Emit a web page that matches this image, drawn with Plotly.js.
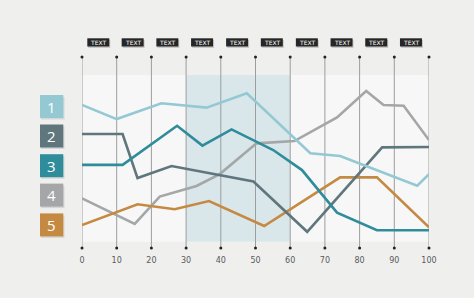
<!DOCTYPE html>
<html>
<head>
<meta charset="utf-8">
<script src="https://cdn.plot.ly/plotly-3.0.1.min.js"></script>
<style>html,body{margin:0;padding:0;background:#efefee;}#chart{width:474px;height:298px;}</style>
</head>
<body>
<div id="chart"></div>
<script>
// ---- data ----
const gridX = [0, 10, 20, 30, 40, 50, 60, 70, 80, 90, 100];
const tickLabels = ['0','10','20','30','40','50','60','70','80','90','100'];
const headerX = [4.7, 14.6, 24.6, 34.6, 44.7, 54.7, 64.8, 74.8, 84.8, 94.8];
const headerLabels = ['TEXT','TEXT','TEXT','TEXT','TEXT','TEXT','TEXT','TEXT','TEXT','TEXT'];
const legendLabels = ['1','2','3','4','5'];
const highlightRange = [30, 60];

const s1x = [0, 10, 22.9, 35.9, 47.5, 65.8, 74.4, 96.6, 100];
const s1y = [74.9, 67.5, 75.8, 73.5, 81.0, 49.6, 48.2, 32.6, 38.7];
const s2x = [0, 11.7, 16, 25.8, 49.4, 64.9, 86.5, 100];
const s2y = [59.7, 59.7, 36.6, 42.9, 34.8, 8.5, 52.7, 52.9];
const s3x = [0, 11.7, 27.4, 34.7, 43.1, 55.1, 63.4, 73.5, 85, 100];
const s3y = [43.5, 43.5, 64.0, 53.6, 62.1, 51.3, 40.8, 18.5, 9.3, 9.3];
const s4x = [0, 15.2, 22.4, 33, 39.7, 50.3, 61.2, 73.5, 81.9, 86.9, 92.7, 100];
const s4y = [26.0, 12.6, 26.9, 32.5, 38.7, 54.8, 56.0, 68.4, 82.2, 74.9, 74.5, 56.5];
const s5x = [0, 16, 26.7, 36.6, 52.5, 74.4, 85, 100];
const s5y = [12.0, 22.9, 20.3, 24.6, 11.5, 37.0, 37.0, 10.8];

const colors = ['#94c9d3', '#5f767c', '#2f8c9a', '#a4a6a7', '#c58a42'];

// ---- layout helpers ----
const L = 82, R = 45, T = 57, B = 50, W = 474, H = 298;
const pw = W - L - R, ph = H - T - B;
const pxX = p => (p - L) / pw;
const pxY = p => (H - B - p) / ph;

const series = [[s4x,s4y,3],[s5x,s5y,4],[s2x,s2y,1],[s3x,s3y,2],[s1x,s1y,0]];
const traces = series.map(([x,y,c]) => ({
  x: x, y: y, type: 'scatter', mode: 'lines',
  line: {color: colors[c], width: 2.6}, hoverinfo: 'skip', showlegend: false
}));
// dots at ends of gridlines
traces.push({
  x: gridX.concat(gridX), y: gridX.map(() => 0).concat(gridX.map(() => 100)),
  type: 'scatter', mode: 'markers', marker: {color: '#222', size: 3},
  cliponaxis: false, hoverinfo: 'skip', showlegend: false
});

const shapes = [];
// lighter panel
shapes.push({type:'rect', xref:'paper', yref:'paper', x0:0, x1:1, y0:pxY(241.7), y1:pxY(75),
  fillcolor:'#f7f7f7', line:{width:0}, layer:'below'});
// highlight band
shapes.push({type:'rect', xref:'x', yref:'paper', x0:highlightRange[0], x1:highlightRange[1],
  y0:pxY(241.7), y1:pxY(75), fillcolor:'#d9e7ea', line:{width:0}, layer:'below'});
// vertical grid lines
gridX.forEach(g => shapes.push({type:'line', xref:'x', yref:'paper', x0:g, x1:g, y0:0, y1:1,
  line:{color:'#9c9d9d', width:1}, layer:'below'}));

const annotations = [];
// header boxes
headerX.forEach((hx, i) => {
  const cx = L + hx / 100 * pw;
  shapes.push({type:'rect', xref:'paper', yref:'paper', x0:pxX(cx-10), x1:pxX(cx+12),
    y0:pxY(48), y1:pxY(40), fillcolor:'#c9c9c9', line:{width:0}});
  shapes.push({type:'rect', xref:'paper', yref:'paper', x0:pxX(cx-11), x1:pxX(cx+11),
    y0:pxY(46.5), y1:pxY(38.3), fillcolor:'#262626', line:{width:0}});
  annotations.push({xref:'paper', yref:'paper', x:pxX(cx), y:pxY(42.4), text:headerLabels[i],
    showarrow:false, font:{family:'DejaVu Sans', size:6, color:'#ffffff'}, xanchor:'center', yanchor:'middle'});
});
// legend boxes
const boxTops = [95, 124.5, 154.2, 183.6, 213.4];
legendLabels.forEach((lab, i) => {
  const t = boxTops[i];
  shapes.push({type:'rect', xref:'paper', yref:'paper', x0:pxX(41), x1:pxX(64.5),
    y0:pxY(t+24.5), y1:pxY(t+2), fillcolor:'#d6d6d6', line:{width:0}});
  shapes.push({type:'rect', xref:'paper', yref:'paper', x0:pxX(40), x1:pxX(63.3),
    y0:pxY(t+23), y1:pxY(t), fillcolor:colors[i], line:{width:0}});
  annotations.push({xref:'paper', yref:'paper', x:pxX(51.7), y:pxY(t+11.5), text:lab,
    showarrow:false, font:{family:'Open Sans', size:15, color:'#ffffff'}, xanchor:'center', yanchor:'middle'});
});

const layout = {
  width: W, height: H,
  margin: {l:L, r:R, t:T, b:B, pad:0},
  paper_bgcolor: '#efefee', plot_bgcolor: 'rgba(0,0,0,0)',
  showlegend: false,
  xaxis: {range:[0,100], tickvals:gridX, ticktext:tickLabels, showgrid:false, zeroline:false,
    showline:false, ticks:'', ticklabelstandoff:6, tickfont:{family:'DejaVu Sans', size:8, color:'#5a5a5a'}, fixedrange:true},
  yaxis: {range:[0,100], showgrid:false, zeroline:false, showline:false, showticklabels:false, ticks:'', fixedrange:true},
  shapes: shapes, annotations: annotations
};
Plotly.newPlot('chart', traces, layout, {staticPlot:true, displayModeBar:false});
</script>
</body>
</html>
